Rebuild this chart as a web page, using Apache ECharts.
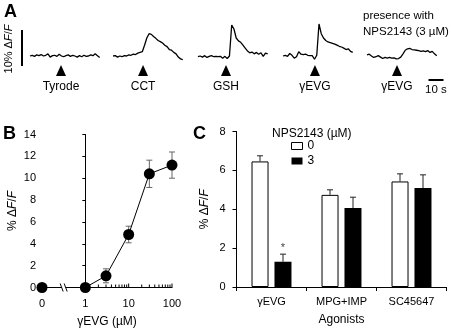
<!DOCTYPE html>
<html>
<head>
<meta charset="utf-8">
<script src="https://cdn.jsdelivr.net/npm/echarts@6/dist/echarts.min.js"></script>
<style>
html, body { margin: 0; padding: 0; background: #fff; }
#chart { width: 451px; height: 331px; }
</style>
</head>
<body>
<div id="chart"></div>
<script>
const FONT = '"Liberation Sans", Arial, sans-serif'

// --- Panel A: Ca2+ traces (% dF/F), one sample every 1.5 s ---
const traceStep = 1.5
const traceStarts = [5.3, 60.7, 117.3, 174, 230]
const traceTyrode = [0, 0.2, -0.1, 0.3, 0.1, 0.4, 0, 0.2, 0.6, -0.3, 0.1, 0.2, -0.1, 0.5, 0, -0.2,
  0.1, 0.3, -0.1, 0.2, 0, -0.3, 0.1, -0.2, 0.2, -0.1, 0, 0.3, 0.1, 0.6, 0.1, -0.4]
const traceCCT = [0, 0.1, -0.3, 0, -0.2, 0.1, 0, 0.3, 0.2, 0.5, 0.4, 0.8, 1.0, 1.2, 3.0, 5.0,
  6.2, 6.0, 5.4, 4.9, 4.3, 4.0, 3.6, 3.0, 2.6, 1.8, 1.6, 1.0, 0.6, -0.3, -0.8, -1.0]
const traceGSH = [-0.2, 0, -0.3, 0.1, -0.4, -0.1, 0.1, -0.2, -0.1, -0.2, -0.1, -0.6, -0.1, -0.7, 0, 8.6,
  7.5, 5.0, 4.2, 3.8, 3.0, 2.2, 1.4, 0.9, 1.1, 0.6, 1.0, 0.5, 0.9, -0.1, 0.8, 0.6]
const traceEVG = [0, 0.2, -0.1, 0.7, 0.2, -0.6, -0.2, 1.2, 0.5, 0.4, 0.5, 0.2, 0.1, 0.1, -0.9, 0.2,
  8.9, 6.2, 5.0, 4.3, 3.9, 3.7, 3.5, 3.3, 3.0, 2.7, 2.5, 2.2, 1.8, 2.0, 1.3, 1.0]
const traceEVGNps = [0.3, 0.5, 0, -0.4, -0.2, 0.1, -0.3, -0.7, -0.4, -0.6, -0.4, -0.6, -0.5, -0.8, -0.7, -0.3,
  0.6, 1.6, 2.0, 2.1, 1.8, 1.7, 1.6, 1.5, 1.3, 1.4, 1.2, 1.5, 1.0, 1.3, 0.6, 0.1]
const traces = [traceTyrode, traceCCT, traceGSH, traceEVG, traceEVGNps]
const stimNames = ['Tyrode', 'CCT', 'GSH', 'γEVG', 'γEVG']
const stimTimes = [26, 80.7, 136, 195.3, 250]
const scaleBarPct = 10
const scaleBarSec = 10

// --- Panel B: dose response ---
const doseConc = [0, 1, 3, 10, 30, 100]
const doseMean = [0, 0, 1.07, 4.85, 10.4, 11.2]
const doseErr = [0, 0, 0.64, 0.76, 1.25, 1.2]
const doseTickLabels = ['0', '1', '10', '100']
const minorTickConc = [2, 3, 4, 5, 6, 7, 8, 9, 20, 30, 40, 50, 60, 70, 80, 90]
const majorTickConc = [10, 100]

// --- Panel C: agonists with / without NPS2143 ---
const agonists = ['γEVG', 'MPG+IMP', 'SC45647']
const ctrlMean = [6.46, 4.74, 5.43]
const ctrlErr = [0.29, 0.26, 0.39]
const npsMean = [1.30, 4.06, 5.09]
const npsErr = [0.39, 0.56, 0.68]
const npsMarks = ['*', '', '']

// 0 sits one decade left of 1 on the log axis (after the break)
const toLog = (c) => (c === 0 ? -1 : Math.log10(c))

const BAR_W = 17
const BAR_OFF = 11.5

const ital = { i: { fontStyle: 'italic', fontSize: 12, fontFamily: FONT, color: '#000' } }

function errBarsB(params, api) {
  const e = api.value(2)
  if (!e) return { type: 'group', children: [] }
  const x = api.value(0), m = api.value(1)
  const t = api.coord([x, m + e]), b = api.coord([x, m - e])
  const st = { stroke: '#666', lineWidth: 1 }
  return {
    type: 'group',
    children: [
      { type: 'line', shape: { x1: t[0], y1: t[1], x2: b[0], y2: b[1] }, style: st },
      { type: 'line', shape: { x1: t[0] - 3, y1: t[1], x2: t[0] + 3, y2: t[1] }, style: st },
      { type: 'line', shape: { x1: b[0] - 3, y1: b[1], x2: b[0] + 3, y2: b[1] }, style: st },
    ],
  }
}

function axisBreak(params, api) {
  const p = api.coord([api.value(0), api.value(1)])
  const st = { stroke: '#000', lineWidth: 1 }
  return {
    type: 'group',
    children: [
      { type: 'rect', shape: { x: p[0] - 2, y: p[1] - 1.5, width: 4, height: 3 }, style: { fill: '#fff' } },
      { type: 'line', shape: { x1: p[0] - 3.5, y1: p[1] - 4, x2: p[0] - 0.5, y2: p[1] + 4 }, style: st },
      { type: 'line', shape: { x1: p[0] + 0.5, y1: p[1] - 4, x2: p[0] + 3.5, y2: p[1] + 4 }, style: st },
    ],
  }
}

function errBarsC(params, api) {
  const cat = api.value(0), m = api.value(1), e = api.value(2), side = api.value(3)
  const mark = api.value(4)
  const top = api.coord([cat, m + e]), base = api.coord([cat, m])
  const x = top[0] + side * BAR_OFF
  const st = { stroke: '#222', lineWidth: 1 }
  const kids = [
    { type: 'line', shape: { x1: x, y1: base[1], x2: x, y2: top[1] }, style: st },
    { type: 'line', shape: { x1: x - 3, y1: top[1], x2: x + 3, y2: top[1] }, style: st },
  ]
  if (mark) {
    kids.push({
      type: 'text',
      style: { text: mark, x: x, y: top[1] - 1, align: 'center', verticalAlign: 'bottom',
        fontSize: 11, fontFamily: FONT, fill: '#444' },
    })
  }
  return { type: 'group', children: kids }
}

const hiddenAxis = { show: false }

const option = {
  animation: false,
  backgroundColor: '#fff',
  textStyle: { fontFamily: FONT, color: '#000' },
  grid: [
    { left: 22, top: 20, width: 423, height: 64.8, outerBoundsMode: 'none' },
    { left: 42, top: 134.5, width: 130, height: 153, outerBoundsMode: 'none' },
    { left: 236.5, top: 131.5, width: 210, height: 155.5, outerBoundsMode: 'none' },
  ],
  xAxis: [
    { gridIndex: 0, type: 'value', min: 0, max: 282, ...hiddenAxis },
    {
      gridIndex: 1, type: 'value', min: -1, max: 2, interval: 1,
      axisLine: { show: true, lineStyle: { color: '#000', width: 1 } },
      axisTick: { show: false },
      splitLine: { show: false },
      axisLabel: {
        margin: 11, fontSize: 11, color: '#000', fontFamily: FONT,
        formatter: (v) => doseTickLabels[Math.round(v) + 1],
      },
      name: 'γEVG (µM)', nameLocation: 'middle', nameGap: 28,
      nameTextStyle: { fontSize: 12, color: '#000', fontFamily: FONT },
    },
    {
      gridIndex: 2, type: 'category', data: agonists, boundaryGap: true,
      axisLine: { show: true, lineStyle: { color: '#000', width: 1 } },
      axisTick: { show: true, interval: 0, length: 4, lineStyle: { color: '#000' } },
      axisLabel: { margin: 9, fontSize: 11, color: '#000', fontFamily: FONT, interval: 0 },
      name: 'Agonists', nameLocation: 'middle', nameGap: 27,
      nameTextStyle: { fontSize: 12, color: '#000', fontFamily: FONT },
    },
  ],
  yAxis: [
    { gridIndex: 0, type: 'value', min: -8, max: 10, ...hiddenAxis },
    {
      gridIndex: 1, type: 'value', min: 0, max: 14, interval: 2,
      axisLine: { show: true, lineStyle: { color: '#000', width: 1 } },
      axisTick: { show: true, length: 3, lineStyle: { color: '#000' } },
      splitLine: { show: false },
      axisLabel: { margin: 6, fontSize: 11, color: '#000', fontFamily: FONT },
      name: '% Δ{i|F}/{i|F}', nameLocation: 'middle', nameGap: 23,
      nameTextStyle: { fontSize: 12, color: '#000', fontFamily: FONT, rich: ital },
    },
    {
      gridIndex: 2, type: 'value', min: 0, max: 8, interval: 2,
      axisLine: { show: true, lineStyle: { color: '#000', width: 1 } },
      axisTick: { show: true, length: 4, lineStyle: { color: '#000' } },
      splitLine: { show: false },
      axisLabel: { margin: 11, fontSize: 11, color: '#000', fontFamily: FONT },
      name: '% Δ{i|F}/{i|F}', nameLocation: 'middle', nameGap: 26,
      nameTextStyle: { fontSize: 12, color: '#000', fontFamily: FONT, rich: ital },
    },
  ],
  legend: {
    data: [
      { name: '0', itemStyle: { color: '#fff', borderColor: '#000', borderWidth: 1 } },
      { name: '3', itemStyle: { color: '#000', borderWidth: 0 } },
    ],
    orient: 'vertical', left: 291, top: 140,
    itemWidth: 11, itemHeight: 7, itemGap: 3, icon: 'rect',
    selectedMode: false, padding: 0,
    textStyle: { fontSize: 12, color: '#000', fontFamily: FONT },
  },
  graphic: [
    { type: 'text', left: 4, top: 3, style: { text: 'A', font: 'bold 18px ' + FONT, fill: '#000' } },
    { type: 'text', left: 3, top: 125, style: { text: 'B', font: 'bold 18px ' + FONT, fill: '#000' } },
    { type: 'text', left: 193, top: 125, style: { text: 'C', font: 'bold 18px ' + FONT, fill: '#000' } },
    {
      type: 'text', x: 9, y: 49, rotation: Math.PI / 2,
      style: { text: '10% Δ{i|F}/{i|F}', fontSize: 11, fontFamily: FONT, fill: '#000',
        align: 'center', verticalAlign: 'middle',
        rich: { i: { fontStyle: 'italic', fontSize: 11, fontFamily: FONT } } },
    },
    { type: 'text', left: 363, top: 10, style: { text: 'presence with', fontSize: 11.5, fontFamily: FONT, fill: '#000' } },
    { type: 'text', left: 363, top: 26, style: { text: 'NPS2143 (3 µM)', fontSize: 11.5, fontFamily: FONT, fill: '#000' } },
    { type: 'text', left: 425, top: 84, style: { text: scaleBarSec + ' s', fontSize: 11.5, fontFamily: FONT, fill: '#000' } },
    { type: 'text', left: 272, top: 128, style: { text: 'NPS2143 (µM)', fontSize: 12, fontFamily: FONT, fill: '#000' } },
  ],
  series: [
    // panel A traces
    ...traces.map((vals, k) => ({
      type: 'line', xAxisIndex: 0, yAxisIndex: 0, silent: true,
      symbol: 'none', lineStyle: { color: '#000', width: 1.3 },
      data: vals.map((v, i) => [traceStarts[k] + i * traceStep, v]),
    })),
    {
      type: 'scatter', xAxisIndex: 0, yAxisIndex: 0, silent: true,
      symbol: 'triangle', symbolSize: [10, 11], itemStyle: { color: '#000', opacity: 1 },
      data: stimTimes.map((t, i) => ({ value: [t, -4.03], label: { formatter: stimNames[i] } })),
      label: { show: true, position: 'bottom', distance: 5, fontSize: 12, color: '#000', fontFamily: FONT },
    },
    {
      type: 'line', xAxisIndex: 0, yAxisIndex: 0, silent: true, symbol: 'none',
      lineStyle: { color: '#000', width: 2 },
      data: [[0, -2.8], [0, -2.8 + scaleBarPct]],
    },
    {
      type: 'line', xAxisIndex: 0, yAxisIndex: 0, silent: true, symbol: 'none',
      lineStyle: { color: '#000', width: 2 },
      data: [[271, -6.7], [271 + scaleBarSec, -6.7]],
    },
    // panel B
    {
      type: 'custom', xAxisIndex: 1, yAxisIndex: 1, silent: true, z: 3,
      renderItem: errBarsB,
      data: doseConc.map((c, i) => [toLog(c), doseMean[i], doseErr[i]]),
    },
    {
      type: 'line', xAxisIndex: 1, yAxisIndex: 1, silent: true, z: 4,
      symbol: 'circle', symbolSize: 11,
      lineStyle: { color: '#000', width: 1 }, itemStyle: { color: '#000', opacity: 1 },
      data: doseConc.map((c, i) => [toLog(c), doseMean[i]]),
    },
    {
      type: 'scatter', xAxisIndex: 1, yAxisIndex: 1, silent: true, z: 2,
      symbol: 'rect', symbolSize: [1, 3], symbolOffset: [0, -1.5], itemStyle: { color: '#000', opacity: 1 },
      data: minorTickConc.map((c) => [toLog(c), 0]),
    },
    {
      type: 'scatter', xAxisIndex: 1, yAxisIndex: 1, silent: true, z: 2,
      symbol: 'rect', symbolSize: [1, 4], symbolOffset: [0, -2], itemStyle: { color: '#000', opacity: 1 },
      data: majorTickConc.map((c) => [toLog(c), 0]),
    },
    {
      type: 'custom', xAxisIndex: 1, yAxisIndex: 1, silent: true, z: 6,
      renderItem: axisBreak,
      data: [[-0.5, 0]],
    },
    // panel C
    {
      name: '0', type: 'bar', xAxisIndex: 2, yAxisIndex: 2, silent: true,
      barWidth: BAR_W, barGap: '35%',
      itemStyle: { color: '#fff', borderColor: '#000', borderWidth: 1 },
      data: ctrlMean,
    },
    {
      name: '3', type: 'bar', xAxisIndex: 2, yAxisIndex: 2, silent: true,
      barWidth: BAR_W, barGap: '35%',
      itemStyle: { color: '#000' },
      data: npsMean,
    },
    {
      type: 'custom', xAxisIndex: 2, yAxisIndex: 2, silent: true, z: 5,
      renderItem: errBarsC,
      data: [
        ...ctrlMean.map((m, i) => [i, m, ctrlErr[i], -1, '']),
        ...npsMean.map((m, i) => [i, m, npsErr[i], 1, npsMarks[i]]),
      ],
    },
  ],
}

const chart = echarts.init(document.getElementById('chart'))
chart.setOption(option)
window.addEventListener('resize', () => chart.resize())
</script>
</body>
</html>
